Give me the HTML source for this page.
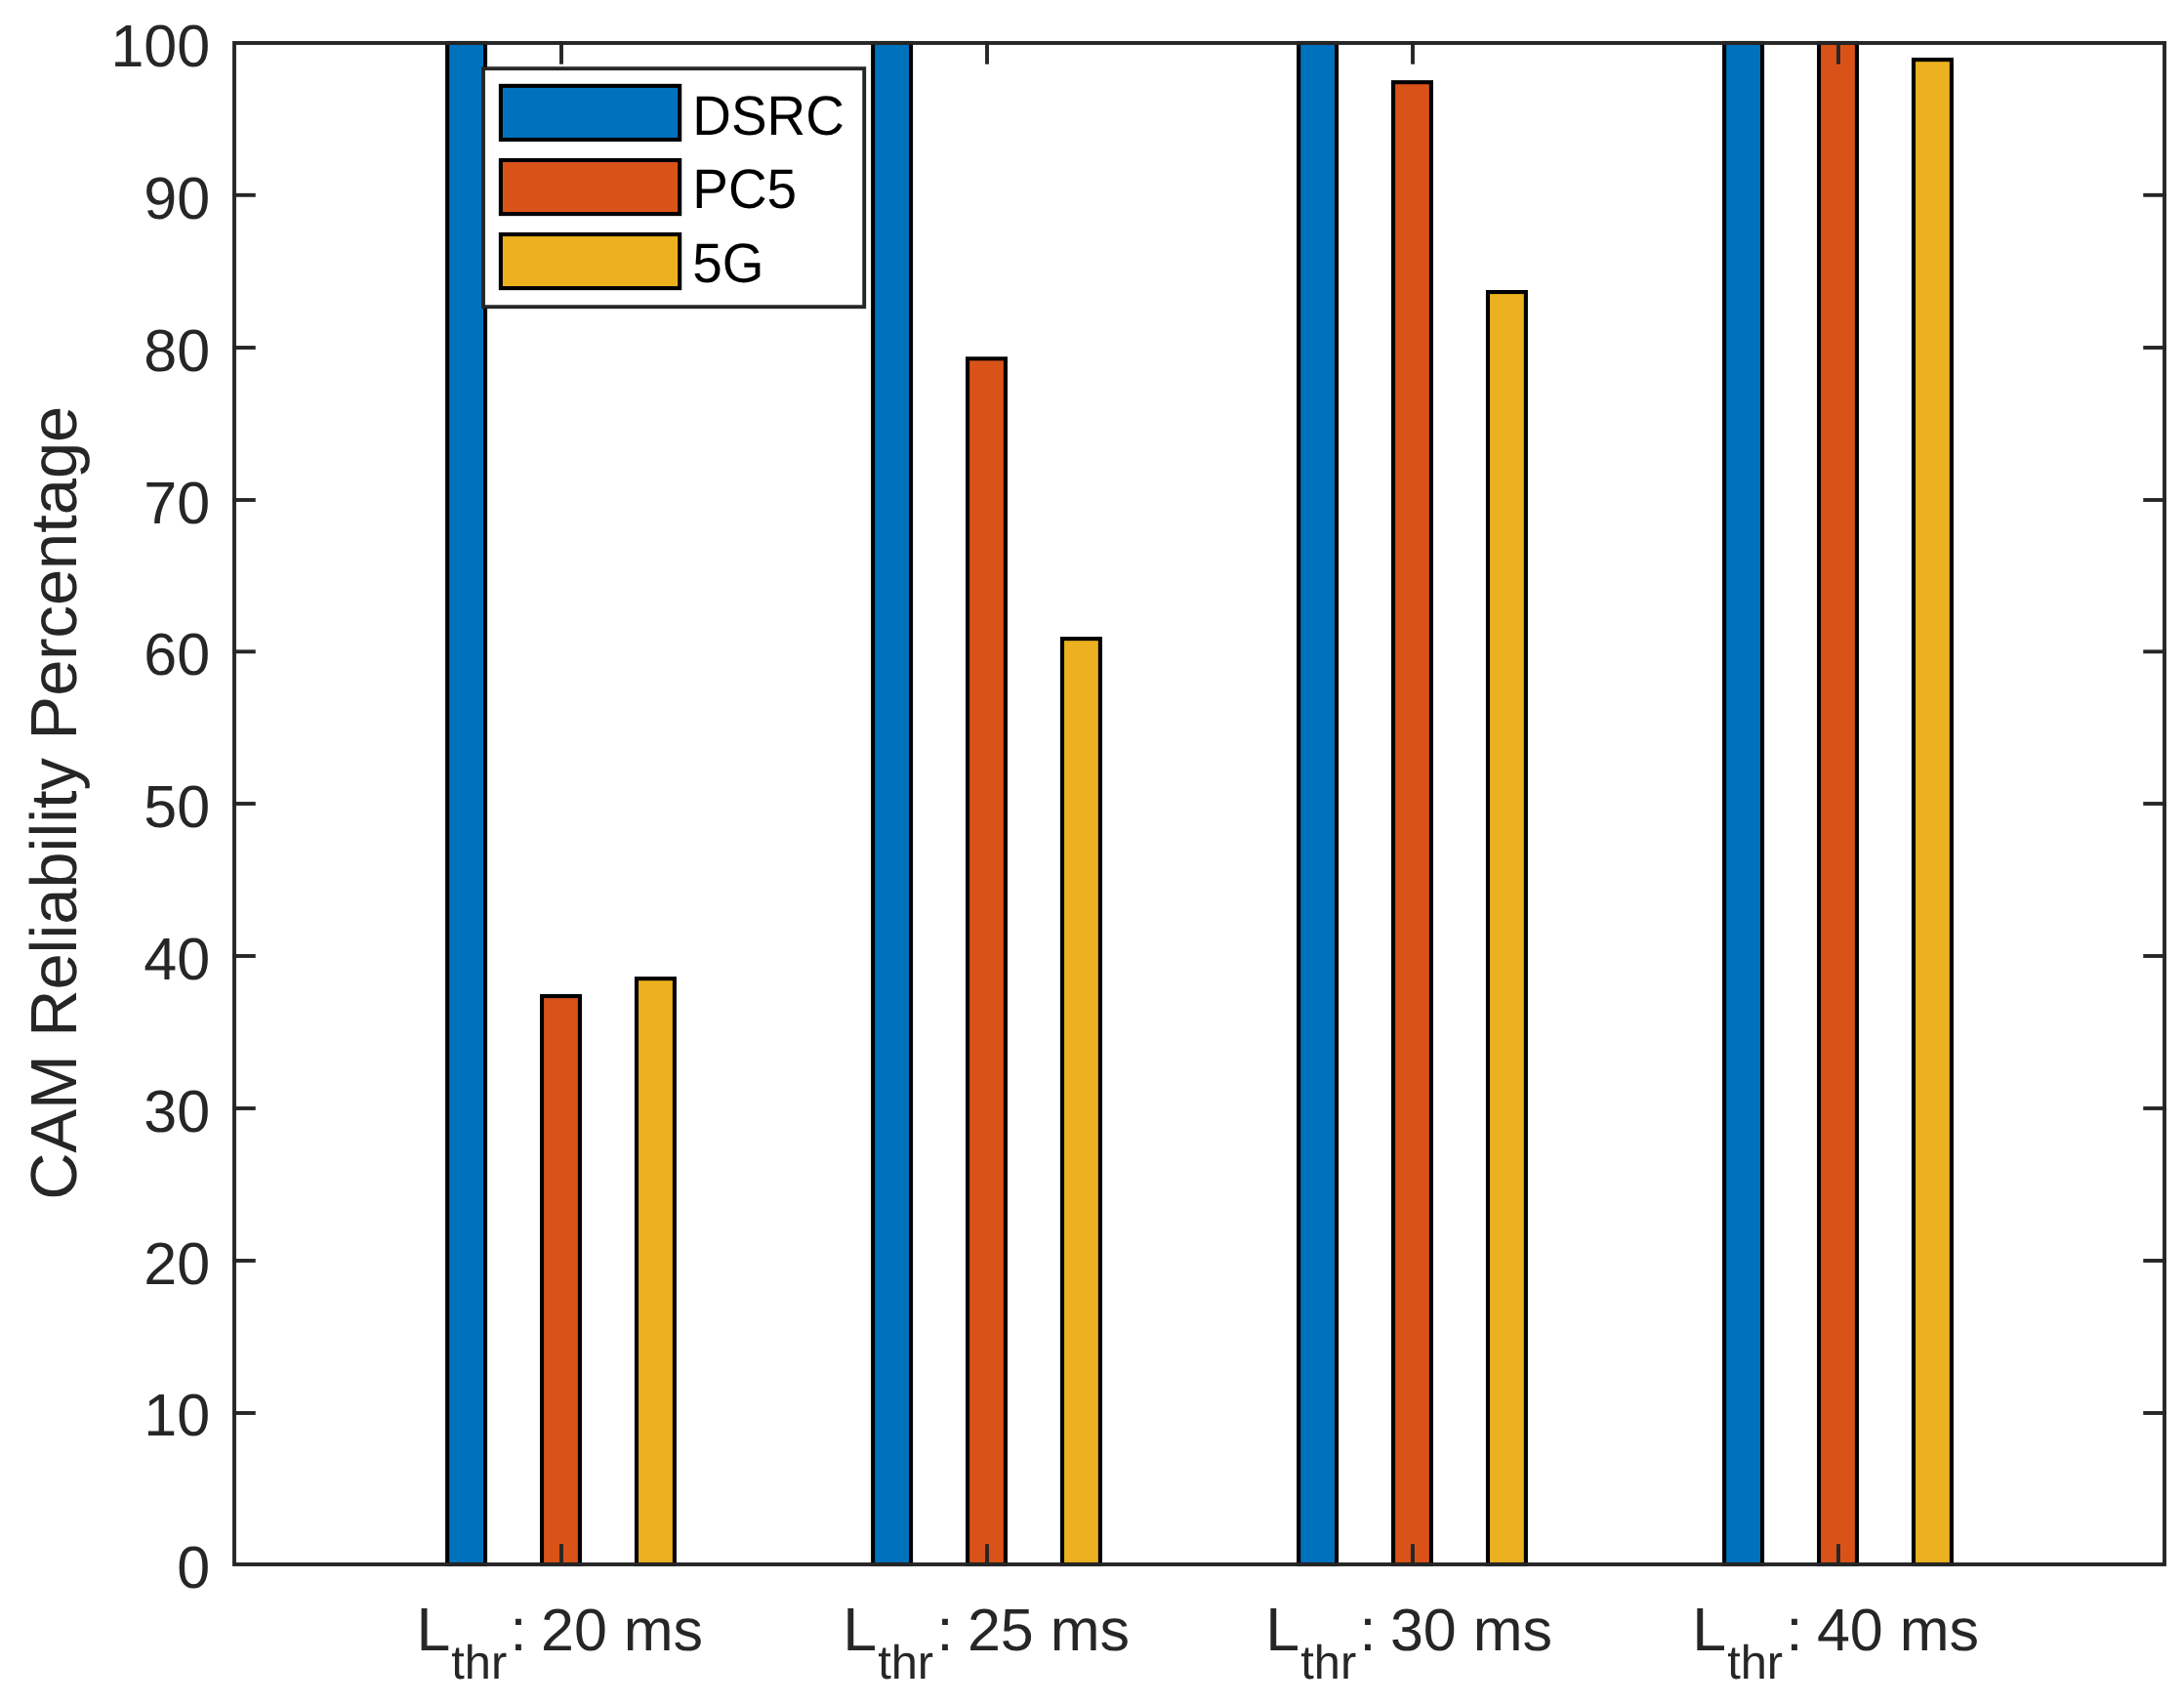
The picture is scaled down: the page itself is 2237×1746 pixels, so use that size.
<!DOCTYPE html>
<html lang="en"><head><meta charset="utf-8"><title>CAM Reliability Percentage</title>
<style>html,body{margin:0;padding:0;background:#fff}body{width:2237px;height:1746px;overflow:hidden}svg{display:block}text{text-rendering:geometricPrecision;font-family:"Liberation Sans",Arial,Helvetica,sans-serif;fill:#262626}</style></head><body>
<svg width="2237" height="1746" viewBox="0 0 2237 1746">
<rect x="0" y="0" width="2237" height="1746" fill="#fff"/>
<g stroke="#000" stroke-width="4.10" stroke-linejoin="miter">
<rect x="458.15" y="44.00" width="38.90" height="1558.00" fill="#0072BD"/>
<rect x="555.05" y="1020.09" width="38.90" height="581.91" fill="#D95319"/>
<rect x="652.00" y="1002.17" width="38.90" height="599.83" fill="#EDB120"/>
<rect x="894.15" y="44.00" width="38.90" height="1558.00" fill="#0072BD"/>
<rect x="991.05" y="367.29" width="38.90" height="1234.71" fill="#D95319"/>
<rect x="1088.00" y="654.11" width="38.90" height="947.89" fill="#EDB120"/>
<rect x="1330.15" y="44.00" width="38.90" height="1558.00" fill="#0072BD"/>
<rect x="1427.05" y="84.20" width="38.90" height="1517.80" fill="#D95319"/>
<rect x="1524.00" y="299.04" width="38.90" height="1302.96" fill="#EDB120"/>
<rect x="1766.15" y="44.00" width="38.90" height="1558.00" fill="#0072BD"/>
<rect x="1863.05" y="44.00" width="38.90" height="1558.00" fill="#D95319"/>
<rect x="1960.00" y="61.14" width="38.90" height="1540.86" fill="#EDB120"/>
</g>
<g stroke="#262626" stroke-width="3.90" fill="none" stroke-linecap="square">
<line x1="575.00" y1="1602.00" x2="575.00" y2="1583.10"/>
<line x1="575.00" y1="44.00" x2="575.00" y2="63.80"/>
<line x1="1011.00" y1="1602.00" x2="1011.00" y2="1583.10"/>
<line x1="1011.00" y1="44.00" x2="1011.00" y2="63.80"/>
<line x1="1447.00" y1="1602.00" x2="1447.00" y2="1583.10"/>
<line x1="1447.00" y1="44.00" x2="1447.00" y2="63.80"/>
<line x1="1883.00" y1="1602.00" x2="1883.00" y2="1583.10"/>
<line x1="1883.00" y1="44.00" x2="1883.00" y2="63.80"/>
<line x1="240.00" y1="1447.00" x2="259.80" y2="1447.00"/>
<line x1="2217.00" y1="1447.00" x2="2197.20" y2="1447.00"/>
<line x1="240.00" y1="1291.00" x2="259.80" y2="1291.00"/>
<line x1="2217.00" y1="1291.00" x2="2197.20" y2="1291.00"/>
<line x1="240.00" y1="1135.00" x2="259.80" y2="1135.00"/>
<line x1="2217.00" y1="1135.00" x2="2197.20" y2="1135.00"/>
<line x1="240.00" y1="979.00" x2="259.80" y2="979.00"/>
<line x1="2217.00" y1="979.00" x2="2197.20" y2="979.00"/>
<line x1="240.00" y1="823.00" x2="259.80" y2="823.00"/>
<line x1="2217.00" y1="823.00" x2="2197.20" y2="823.00"/>
<line x1="240.00" y1="667.30" x2="259.80" y2="667.30"/>
<line x1="2217.00" y1="667.30" x2="2197.20" y2="667.30"/>
<line x1="240.00" y1="512.00" x2="259.80" y2="512.00"/>
<line x1="2217.00" y1="512.00" x2="2197.20" y2="512.00"/>
<line x1="240.00" y1="356.00" x2="259.80" y2="356.00"/>
<line x1="2217.00" y1="356.00" x2="2197.20" y2="356.00"/>
<line x1="240.00" y1="199.80" x2="259.80" y2="199.80"/>
<line x1="2217.00" y1="199.80" x2="2197.20" y2="199.80"/>
<rect x="240.00" y="44.00" width="1977.00" height="1558.00" stroke-linejoin="miter"/>
</g>
<g font-size="61" text-anchor="end">
<text x="215.2" y="1626.20">0</text>
<text x="215.2" y="1470.40">10</text>
<text x="215.2" y="1314.60">20</text>
<text x="215.2" y="1158.80">30</text>
<text x="215.2" y="1003.00">40</text>
<text x="215.2" y="847.20">50</text>
<text x="215.2" y="691.40">60</text>
<text x="215.2" y="535.60">70</text>
<text x="215.2" y="379.80">80</text>
<text x="215.2" y="224.00">90</text>
<text x="215.2" y="68.20">100</text>
</g>
<text font-size="61" x="426.40" y="1689.9"><tspan font-size="62.6">L</tspan><tspan x="462.26" y="1719" font-size="48.8">thr</tspan><tspan x="522.50" y="1689.9">: </tspan><tspan x="554.00" y="1689.9">20 ms</tspan></text>
<text font-size="61" x="863.30" y="1689.9"><tspan font-size="62.6">L</tspan><tspan x="899.16" y="1719" font-size="48.8">thr</tspan><tspan x="959.40" y="1689.9">: </tspan><tspan x="990.90" y="1689.9">25 ms</tspan></text>
<text font-size="61" x="1296.35" y="1689.9"><tspan font-size="62.6">L</tspan><tspan x="1332.21" y="1719" font-size="48.8">thr</tspan><tspan x="1392.45" y="1689.9">: </tspan><tspan x="1423.95" y="1689.9">30 ms</tspan></text>
<text font-size="61" x="1733.30" y="1689.9"><tspan font-size="62.6">L</tspan><tspan x="1769.16" y="1719" font-size="48.8">thr</tspan><tspan x="1829.40" y="1689.9">: </tspan><tspan x="1860.90" y="1689.9">40 ms</tspan></text>
<text font-size="66.8" text-anchor="middle" transform="translate(77.8,822.3) rotate(-90)">CAM Reliability Percentage</text>
<rect x="495" y="70.2" width="390.2" height="244" fill="#fff" stroke="#262626" stroke-width="3.90"/>
<rect x="512.9" y="87.90" width="183.3" height="55.1" fill="#0072BD" stroke="#000" stroke-width="4.10"/>
<text font-size="54.9" transform="translate(709.3,137.50) scale(1,1.04)" style="fill:#000">DSRC</text>
<rect x="512.9" y="164.00" width="183.3" height="55.1" fill="#D95319" stroke="#000" stroke-width="4.10"/>
<text font-size="54.9" transform="translate(709.3,212.80) scale(1,1.04)" style="fill:#000">PC5</text>
<rect x="512.9" y="240.00" width="183.3" height="55.1" fill="#EDB120" stroke="#000" stroke-width="4.10"/>
<text font-size="54.9" transform="translate(709.3,289.00) scale(1,1.04)" style="fill:#000">5G</text>
</svg></body></html>
